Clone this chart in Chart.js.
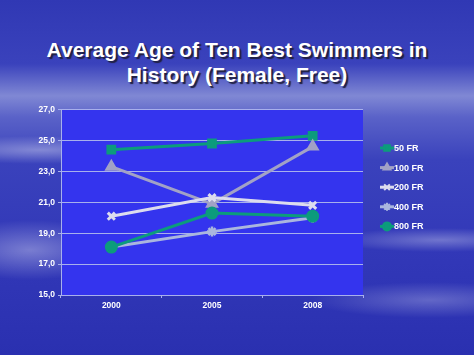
<!DOCTYPE html>
<html>
<head>
<meta charset="utf-8">
<script src="https://cdn.jsdelivr.net/npm/chart.js@4/dist/chart.umd.min.js"></script>
<style>
  html, body { margin: 0; padding: 0; }
  body {
    width: 474px; height: 355px; overflow: hidden; position: relative;
    background:
      radial-gradient(ellipse 120px 14px at 40px 150px, rgba(255,255,255,0.35), rgba(255,255,255,0) 100%),
      radial-gradient(ellipse 90px 30px at 30px 250px, rgba(255,255,255,0.35), rgba(255,255,255,0) 100%),
      radial-gradient(ellipse 110px 12px at 440px 240px, rgba(255,255,255,0.3), rgba(255,255,255,0) 100%),
      radial-gradient(ellipse 120px 18px at 430px 300px, rgba(255,255,255,0.25), rgba(255,255,255,0) 100%),
      linear-gradient(to bottom, #3038b4 0%, #3a42bc 18%, #8088d4 27%, #5a62c8 33%, #3a42bc 45%, #3238b8 70%, #2a30b0 100%);
    font-family: "Liberation Sans", Arial, sans-serif;
  }
  #title {
    position: absolute; left: 0; top: 37px; width: 474px; text-align: center;
    color: #fff; font-weight: bold; font-size: 21px; line-height: 25px;
    text-shadow: 2px 2px 1px #202040;
  }
  canvas { position: absolute; left: 0; top: 0; }
</style>
</head>
<body>
<div id="title">Average Age of Ten Best Swimmers in<br>History (Female, Free)</div>
<canvas id="chart" width="474" height="355"></canvas>
<script>
// datos
const years = ['2000', '2005', '2008'];
const fr50 = [24.4, 24.8, 25.3];
const fr100 = [23.3, 20.9, 24.6];
const fr200 = [20.1, 21.3, 20.8];
const fr400 = [18.1, 19.1, 20.0];
const fr800 = [18.1, 20.3, 20.1];
const yTicks = [15, 17, 19, 21, 23, 25, 27];

const seriesNames = ['50 FR', '100 FR', '200 FR', '400 FR', '800 FR'];
const seriesData = [fr50, fr100, fr200, fr400, fr800];
const colors = ['#0c9c7c', '#a2a2c6', '#dcdcee', '#aab6de', '#0c9c7c'];
const markers = ['rect', 'triangle', 'crossRot', 'star', 'circle'];
const radii = [5.5, 6, 5, 5, 5.5];
const markerBorders = [2, 2, 3, 2.5, 2];

// fondo del área de trazado
const plotBg = {
  id: 'plotBg',
  beforeDraw(chart) {
    const { ctx, chartArea: a } = chart;
    ctx.save();
    ctx.fillStyle = '#3434ee';
    ctx.fillRect(a.left, a.top, a.right - a.left, a.bottom - a.top);
    ctx.restore();
  }
};

// leyenda con línea y marcador
const sideLegend = {
  id: 'sideLegend',
  afterDraw(chart) {
    const { ctx, chartArea: a } = chart;
    const x0 = a.right + 17, y0 = a.top + 38.5, step = 19.6;
    ctx.save();
    chart.data.datasets.forEach((ds, i) => {
      const y = y0 + i * step;
      ctx.strokeStyle = ds.borderColor;
      ctx.lineWidth = 3;
      ctx.beginPath();
      ctx.moveTo(x0, y);
      ctx.lineTo(x0 + 14, y);
      ctx.stroke();
      ctx.fillStyle = ds.backgroundColor;
      ctx.strokeStyle = ds.borderColor;
      ctx.lineWidth = 2;
      Chart.helpers.drawPoint(ctx, { pointStyle: ds.pointStyle, radius: 4, borderWidth: 2 }, x0 + 7, y);
      ctx.fillStyle = '#ffffff';
      ctx.font = 'bold 9px "Liberation Sans", Arial, sans-serif';
      ctx.textBaseline = 'middle';
      ctx.fillText(ds.label, x0 + 14, y + 0.5);
    });
    ctx.restore();
  }
};

new Chart(document.getElementById('chart').getContext('2d'), {
  type: 'line',
  data: {
    labels: years,
    datasets: seriesNames.map((name, i) => ({
      label: name,
      data: seriesData[i],
      order: -i,
      borderColor: colors[i],
      backgroundColor: colors[i],
      borderWidth: 3,
      pointStyle: markers[i],
      pointRadius: radii[i],
      pointBorderWidth: markerBorders[i],
      pointBorderColor: colors[i],
      pointBackgroundColor: colors[i],
      tension: 0
    }))
  },
  options: {
    responsive: false,
    animation: false,
    layout: { padding: { top: 109.5, right: 111, bottom: 0, left: 0 } },
    plugins: {
      legend: { display: false },
      tooltip: { enabled: false }
    },
    scales: {
      x: {
        offset: true,
        afterFit: (s) => { s.height = 60; },
        grid: {
          offset: true,
          drawOnChartArea: false,
          drawTicks: true,
          tickLength: 3,
          color: '#a8b0ec'
        },
        border: { color: '#a8b0ec', width: 1 },
        ticks: {
          color: '#ffffff',
          font: { family: '"Liberation Sans", Arial, sans-serif', size: 8.5, weight: 'bold' },
          padding: 3
        }
      },
      y: {
        min: 15,
        max: 27,
        afterFit: (s) => { s.width = 61; },
        afterBuildTicks: (s) => { s.ticks = yTicks.map(v => ({ value: v })); },
        grid: {
          color: '#a8b0ec',
          lineWidth: 1,
          tickLength: 3
        },
        border: { color: '#a8b0ec', width: 1 },
        ticks: {
          color: '#ffffff',
          font: { family: '"Liberation Sans", Arial, sans-serif', size: 8.5, weight: 'bold' },
          padding: 3,
          callback: (v) => Number(v).toFixed(1).replace('.', ',')
        }
      }
    }
  },
  plugins: [plotBg, sideLegend]
});
</script>
</body>
</html>
